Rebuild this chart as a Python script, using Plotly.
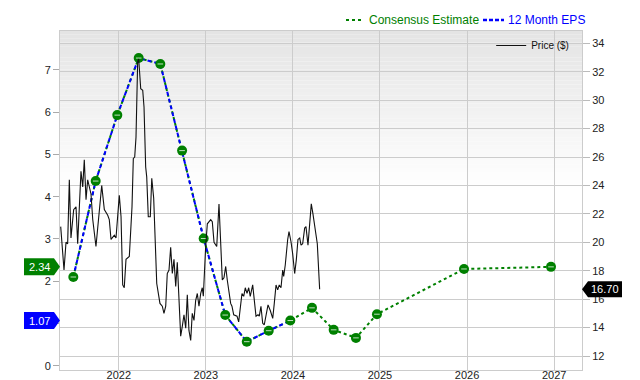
import plotly.graph_objects as go

# ---------------- data ----------------
# fiscal periods (decimal years) for EPS points
period_t = [2021.478, 2021.735, 2021.983, 2022.229, 2022.477, 2022.727, 2022.975,
            2023.223, 2023.470, 2023.722, 2023.970, 2024.219, 2024.468, 2024.724,
            2024.965, 2025.965, 2026.964]
consensus_eps = [2.10, 4.37, 5.93, 7.28, 7.14, 5.09, 3.01, 1.20, 0.57, 0.83, 1.07,
                 1.37, 0.85, 0.66, 1.22, 2.29, 2.34]
reported_eps = [2.10, 4.37, 5.93, 7.28, 7.14, 5.09, 3.01, 1.20, 0.57, 0.83, 1.07]

price_t = [2021.333, 2021.371, 2021.394, 2021.413, 2021.432, 2021.451, 2021.482, 2021.509,
           2021.528, 2021.566, 2021.586, 2021.604, 2021.624, 2021.643, 2021.681, 2021.701,
           2021.738, 2021.804, 2021.834, 2021.873, 2021.891, 2021.911, 2021.949, 2021.968,
           2022.006, 2022.026, 2022.045, 2022.063, 2022.083, 2022.121, 2022.152, 2022.167,
           2022.183, 2022.198, 2022.217, 2022.229, 2022.252, 2022.275, 2022.290, 2022.309,
           2022.321, 2022.339, 2022.362, 2022.379, 2022.401, 2022.436, 2022.473, 2022.500,
           2022.519, 2022.539, 2022.557, 2022.577, 2022.596, 2022.615, 2022.634, 2022.654,
           2022.672, 2022.692, 2022.711, 2022.730, 2022.749, 2022.769, 2022.787, 2022.806,
           2022.826, 2022.844, 2022.864, 2022.883, 2022.902, 2022.921, 2022.941, 2022.959,
           2022.971, 2022.998, 2023.017, 2023.056, 2023.074, 2023.094, 2023.125, 2023.151,
           2023.171, 2023.189, 2023.208, 2023.228, 2023.246, 2023.266, 2023.285, 2023.300,
           2023.320, 2023.358, 2023.377, 2023.415, 2023.435, 2023.453, 2023.473, 2023.492,
           2023.510, 2023.538, 2023.556, 2023.576, 2023.599, 2023.614, 2023.633, 2023.653,
           2023.671, 2023.691, 2023.714, 2023.740, 2023.768, 2023.786, 2023.806, 2023.825,
           2023.843, 2023.863, 2023.883, 2023.894, 2023.912, 2023.940, 2023.955, 2023.978,
           2023.997, 2024.020, 2024.039, 2024.058, 2024.078, 2024.093, 2024.112, 2024.135,
           2024.150, 2024.173, 2024.193, 2024.211, 2024.230, 2024.257, 2024.280, 2024.307]
price_v = [21.1, 18.05, 20.0, 19.9, 24.4, 20.3, 22.3, 22.5,
           19.9, 25.0, 23.9, 25.8, 23.0, 24.4, 23.4, 21.6,
           19.7, 24.0, 22.3, 21.9, 21.6, 20.2, 20.5, 20.3,
           23.3, 21.8, 17.0, 16.8, 18.8, 19.0, 22.5, 25.9,
           26.0, 27.4, 32.7, 32.9, 30.8, 30.7, 29.5, 25.3,
           24.6, 21.8, 21.8, 24.5, 23.1, 17.1, 15.7, 15.5,
           15.0, 15.5, 17.8, 18.05, 19.65, 17.8, 18.8, 16.9,
           18.6, 16.2, 13.4, 14.1, 14.9, 13.95, 16.3, 13.8,
           13.1, 15.0, 14.5, 15.9, 16.4, 15.5, 16.4, 16.8,
           16.2, 19.7, 21.3, 21.6, 21.45, 20.0, 19.7, 22.7,
           19.7, 17.35, 17.5, 18.3, 17.35, 16.6, 15.7, 15.5,
           14.9, 14.8, 14.4, 16.4, 16.2, 16.8, 16.4, 16.8,
           16.2, 17.0, 16.06, 14.8, 14.9, 14.8, 15.5, 14.3,
           14.2, 14.8, 15.6, 15.2, 14.65, 15.7, 17.0, 16.65,
           17.0, 16.8, 18.05, 17.6, 18.4, 20.2, 20.75, 20.04,
           19.2, 17.8, 18.76, 20.2, 20.3, 19.8, 19.9, 21.0,
           21.1, 19.8, 21.1, 22.7, 22.0, 20.9, 19.9, 16.70]

year_ticks = [2022, 2023, 2024, 2025, 2026, 2027]
year_labels = ["2022", "2023", "2024", "2025", "2026", "2027"]
eps_ticks = [0, 1, 2, 3, 4, 5, 6, 7]
eps_labels = ["0", "", "2", "3", "4", "5", "6", "7"]   # "1" sits under the 1.07 tag
price_ticks = [12, 14, 16, 18, 20, 22, 24, 26, 28, 30, 32, 34]

GREEN = "#008000"
BLUE = "#0000ff"
FONT = "Liberation Sans, Arial, sans-serif"

fig = go.Figure()

fig.add_trace(go.Scatter(
    x=price_t, y=price_v, yaxis="y2", mode="lines",
    line=dict(color="#111111", width=1.1),
    name="Price ($)", legend="legend2", hoverinfo="skip"))

fig.add_trace(go.Scatter(
    x=period_t, y=consensus_eps, mode="lines",
    line=dict(color=GREEN, width=2, dash="dot"),
    name="Consensus Estimate", showlegend=False))

fig.add_trace(go.Scatter(
    x=period_t[:len(reported_eps)], y=reported_eps, mode="lines",
    line=dict(color=BLUE, width=2, dash="4px,3px"),
    name="12 Month EPS", showlegend=False))

fig.add_trace(go.Scatter(
    x=period_t, y=consensus_eps, mode="markers",
    marker=dict(color=GREEN, size=10, line=dict(width=0)),
    showlegend=False, hoverinfo="skip"))
fig.add_trace(go.Scatter(
    x=period_t, y=consensus_eps, mode="markers",
    marker=dict(symbol="line-ew", size=4, line=dict(color="rgba(255,255,255,0.75)", width=1)),
    showlegend=False, hoverinfo="skip"))

# background gradient (grey at top fading to white)
shapes = []
n = 40
for i in range(n):
    y0 = 0.55 + 0.45 * i / n
    y1 = 0.55 + 0.45 * (i + 1) / n
    c = int(255 - 27 * (i + 0.5) / n)
    shapes.append(dict(type="rect", xref="paper", yref="paper", x0=0, x1=1, y0=y0, y1=y1,
                       fillcolor=f"rgb({c},{c},{c})", line=dict(width=0), layer="below"))

# value tags
def left_tag(val, color):
    shapes.append(dict(type="path", xref="paper", yref="y", xsizemode="pixel", ysizemode="pixel",
                       xanchor=0, yanchor=val,
                       path="M -36 -8.5 L -6 -8.5 L 0 0 L -6 8.5 L -36 8.5 Z",
                       fillcolor=color, line=dict(width=0), layer="above"))

def right_tag(val, color):
    shapes.append(dict(type="path", xref="paper", yref="y2", xsizemode="pixel", ysizemode="pixel",
                       xanchor=1, yanchor=val,
                       path="M 0 0 L 6 -8 L 40 -8 L 40 8 L 6 8 Z",
                       fillcolor=color, line=dict(width=0), layer="above"))

left_tag(consensus_eps[-1], GREEN)
left_tag(reported_eps[-1], BLUE)
right_tag(price_v[-1], "#000000")

# custom top legend (line samples + coloured labels)
LEG_Y = 1.0325
shapes.append(dict(type="line", xref="paper", yref="paper", xsizemode="pixel", xanchor=1,
                   x0=-236, x1=-219, y0=LEG_Y, y1=LEG_Y,
                   line=dict(color=GREEN, width=2, dash="dot")))
shapes.append(dict(type="line", xref="paper", yref="paper", xsizemode="pixel", xanchor=1,
                   x0=-99, x1=-78, y0=LEG_Y, y1=LEG_Y,
                   line=dict(color=BLUE, width=2.5, dash="4px,2px")))

annotations = [
    dict(xref="paper", yref="paper", x=1, y=LEG_Y, xshift=-215, showarrow=False,
         xanchor="left", yanchor="middle", text="Consensus Estimate",
         font=dict(color=GREEN, size=12, family=FONT)),
    dict(xref="paper", yref="paper", x=1, y=LEG_Y, xshift=-76, showarrow=False,
         xanchor="left", yanchor="middle", text="12 Month EPS",
         font=dict(color=BLUE, size=12, family=FONT)),
    dict(xref="paper", yref="y", x=0, y=consensus_eps[-1], xshift=-21, showarrow=False,
         xanchor="center", yanchor="middle",
         text=f"{consensus_eps[-1]:.2f}", font=dict(color="white", size=11, family=FONT)),
    dict(xref="paper", yref="y", x=0, y=reported_eps[-1], xshift=-21, showarrow=False,
         xanchor="center", yanchor="middle",
         text=f"{reported_eps[-1]:.2f}", font=dict(color="white", size=11, family=FONT)),
    dict(xref="paper", yref="y2", x=1, y=price_v[-1], xshift=23, showarrow=False,
         xanchor="center", yanchor="middle",
         text=f"{price_v[-1]:.2f}", font=dict(color="white", size=11, family=FONT)),
]

fig.update_layout(
    width=640, height=380,
    margin=dict(l=60, r=58, t=31, b=10, autoexpand=False),
    paper_bgcolor="white", plot_bgcolor="white",
    font=dict(family=FONT, size=11, color="#222"),
    shapes=shapes, annotations=annotations,
    showlegend=True,
    legend2=dict(x=0.985, xanchor="right", y=1.0, yanchor="top",
                 font=dict(size=10, family=FONT, color="#111"), bgcolor="rgba(0,0,0,0)",
                 itemwidth=30),
    xaxis=dict(range=[2021.325, 2027.32], tickvals=year_ticks, ticktext=year_labels,
               showgrid=True, gridcolor="#cccccc", gridwidth=1, zeroline=False,
               showline=True, linecolor="#cccccc", mirror=True, ticks="",
               ticklabelstandoff=-5,
               automargin=False, tickfont=dict(size=11, color="#222")),
    yaxis=dict(range=[-0.10, 7.92], tickvals=eps_ticks, ticktext=eps_labels,
               showgrid=False, zeroline=False,
               showline=True, linecolor="#cccccc", ticks="outside", ticklen=6,
               automargin=False, tickcolor="#aaaaaa", tickfont=dict(size=11, color="#222")),
    yaxis2=dict(range=[11.015, 34.865], tickvals=price_ticks, overlaying="y", side="right",
                showgrid=True, gridcolor="#cccccc", gridwidth=1, zeroline=False,
                showline=True, linecolor="#cccccc", ticks="outside", ticklen=7,
                automargin=False, tickcolor="#bbbbbb", tickfont=dict(size=11, color="#222")),
)

fig.write_html("out.html")
